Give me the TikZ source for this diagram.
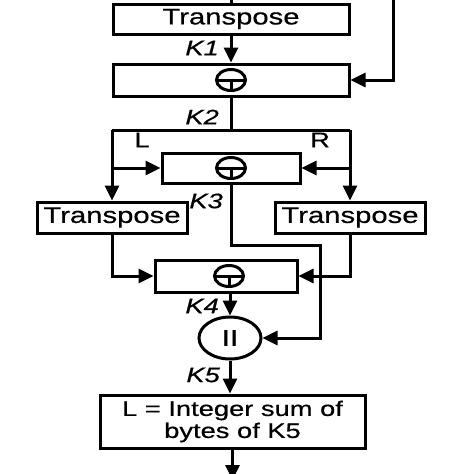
\documentclass[tikz,border=0pt]{standalone}
\usepackage{fontspec}
\setmainfont{Liberation Sans}[FakeStretch=1.3,FakeBold=0.6]
\usetikzlibrary{arrows.meta,shapes.geometric}
\newcommand\xorat[1]{%
  \draw[xorsym] (#1) ellipse (14.5pt and 10.5pt);
  \draw[xorsym] (#1) ++(-14.5,0) -- ++(29,0);
  \draw[xorsym] (#1) -- ++(0,10.5);}
\begin{document}
\begin{tikzpicture}[x=1pt,y=-1pt,
  every node/.style={font=\fontsize{21}{22}\selectfont},
  blk/.style={draw, line width=3pt, rectangle, inner sep=0pt},
  tbox/.style={blk, font=\fontsize{22.5}{23}\selectfont},
  wire/.style={line width=3pt},
  arr/.style={wire, -{Triangle[length=15pt,width=14pt]}},
  klab/.style={font=\fontsize{21}{22}\selectfont\itshape, anchor=east, inner sep=0pt},
  plab/.style={inner sep=0pt},
  xorsym/.style={line width=3pt}]
\useasboundingbox (0,0) rectangle (474,474);
% blocks
\node[tbox, minimum width=236pt, minimum height=30pt] (t1) at (231,19) {Transpose};
\node[blk, minimum width=236pt, minimum height=32pt] (x1) at (231,80) {};
\node[blk, minimum width=138pt, minimum height=30pt] (x2) at (231,168) {};
\node[tbox, minimum width=150pt, minimum height=31pt] (lt) at (112,217.5) {Transpose};
\node[tbox, minimum width=150pt, minimum height=31pt] (rt) at (350,217.5) {Transpose};
\node[blk, minimum width=142pt, minimum height=32pt] (x3) at (226,276) {};
\node[draw, ellipse, line width=3pt, minimum width=62pt, minimum height=42pt, inner sep=0pt, font=\fontsize{23}{24}\selectfont] (cat) at (230,338) {II};
\node[blk, minimum width=265pt, minimum height=53pt, align=center] (sum) at (232.5,421.5) {L = Integer sum of\\bytes of K5};
% xor symbols
\coordinate (x3c) at ([xshift=3pt]x3.center);
\xorat{x1.center}
\xorat{x2.center}
\xorat{x3c}
% labels
\node[klab] (k1) at (219,48) {K1};
\node[klab] (k2) at (219,117) {K2};
\node[klab] (k3) at (223,201) {K3};
\node[klab] (k4) at (219,306) {K4};
\node[klab] (k5) at (220,375) {K5};
\node[plab] (lL) at (142,140) {L};
\node[plab] (lR) at (320,140) {R};
% coordinates
\coordinate (topin) at (231,0);
\coordinate (fb) at (393,0);
\coordinate (split) at (231,130);
\coordinate (sl) at (112,130);
\coordinate (sr) at (350,130);
\coordinate (ml) at (112,168);
\coordinate (mr) at (350,168);
\coordinate (k3a) at (231,245);
\coordinate (k3b) at (320,245);
\coordinate (out) at (232.5,480);
% connectors
\draw[wire] (topin) -- (t1.north);
\draw[arr] (t1.south) -- (x1.north);
\draw[arr] (fb) |- (x1.east);
\draw[wire] (x1.south) -- (split);
\draw[wire] (sl) -- (sr);
\draw[arr] (sl) -- (lt.north);
\draw[arr] (sr) -- (rt.north);
\draw[arr] (ml) -- (x2.west);
\draw[arr] (mr) -- (x2.east);
\draw[arr] (x2.south) -- (k3a) -- (k3b) |- (cat.east);
\draw[arr] (lt.south) |- (x3.west);
\draw[arr] (rt.south) |- (x3.east);
\draw[arr] (x3.south -| cat.north) -- (cat.north);
\draw[arr] (cat.south) -- (cat.south |- sum.north);
\draw[arr] (sum.south) -- (out);
\end{tikzpicture}
\end{document}
